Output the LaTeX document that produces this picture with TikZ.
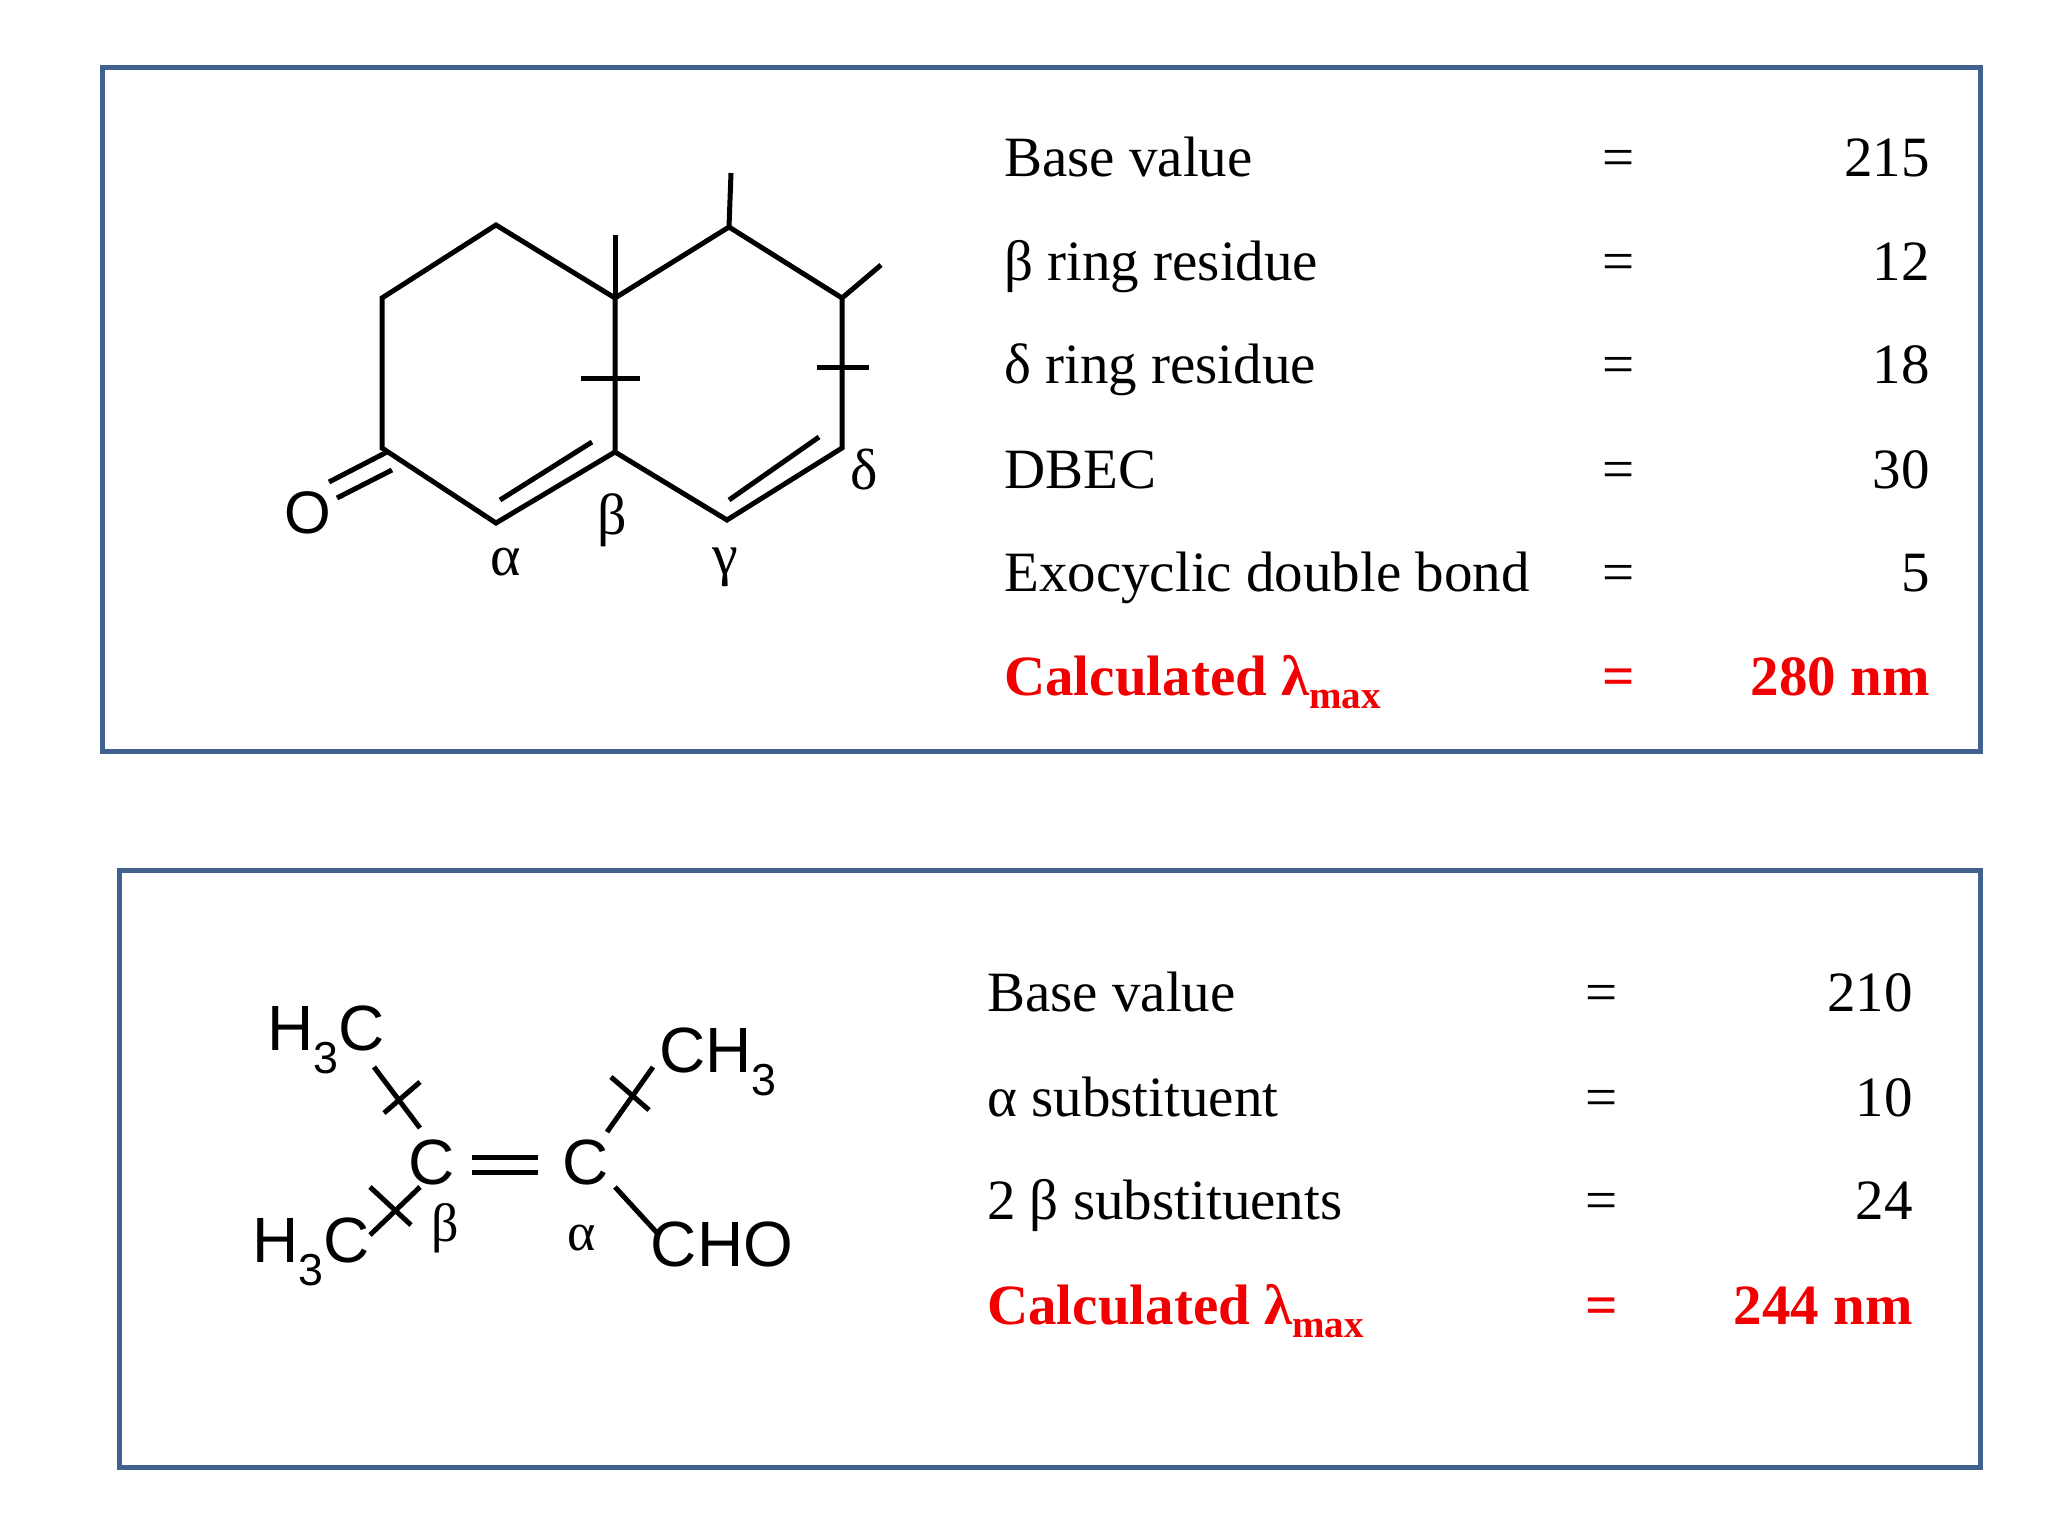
\documentclass[tikz,border=0pt]{standalone}
\usepackage{fontspec}
\setmainfont{Liberation Serif}
\newfontfamily\chemsans{Liberation Sans}
\begin{document}
\begin{tikzpicture}[x=1pt,y=-1pt,
  frame/.style={draw=boxblue,line width=5pt},
  bond/.style={line width=5pt,line cap=butt},
  txt/.style={font=\fontsize{57}{64}\selectfont,inner sep=0pt},
  lft/.style={txt,anchor=base west},
  rgt/.style={txt,anchor=base east},
  eqs/.style={txt,anchor=base},
  red/.style={text=calcred,font=\fontsize{57}{64}\selectfont\bfseries},
  lab/.style={font=\fontsize{58}{64}\selectfont,inner sep=0pt},
  chem/.style={font=\chemsans\fontsize{64}{70}\selectfont,inner sep=0pt}]
\definecolor{boxblue}{HTML}{41618E}
\definecolor{calcred}{HTML}{F00000}
\useasboundingbox (0,0) rectangle (2048,1536);
\fill[white] (0,0) rectangle (2048,1536);
\draw[frame] (102,68) rectangle (1980,751);
\draw[frame] (119,870) rectangle (1980,1467);
% table 1
\foreach \t/\v/\y/\n in {Base value/215/176/a,β ring residue/12/280/b,δ ring residue/18/383/c,DBEC/30/488/d,Exocyclic double bond/5/591/e}{
  \node[lft] (l\n) at (1004,\y) {\t};
  \node[eqs] (e\n) at (1619,\y) {=};
  \node[rgt] (v\n) at (1930,\y) {\v};
}
\node[lft,red] (lf) at (1004,695) {Calculated λ\raisebox{-13pt}{\fontsize{39}{44}\selectfont max}};
\node[eqs,red] (ef) at (1619,695) {=};
\node[rgt,red] (vf) at (1930,695) {280 nm};
% table 2
\foreach \t/\v/\y/\n in {Base value/210/1011/a,α substituent/10/1116/b,2 β substituents/24/1219/c}{
  \node[lft] (m\n) at (987,\y) {\t};
  \node[eqs] (f\n) at (1602,\y) {=};
  \node[rgt] (w\n) at (1913,\y) {\v};
}
\node[lft,red] (mf) at (987,1324) {Calculated λ\raisebox{-13pt}{\fontsize{39}{44}\selectfont max}};
\node[eqs,red] (ff) at (1602,1324) {=};
\node[rgt,red] (wf) at (1913,1324) {244 nm};
% molecule 1
\coordinate (c1) at (382,448);
\coordinate (c2) at (382,298);
\coordinate (c3) at (496,225);
\coordinate (c4) at (615,298);
\coordinate (c5) at (615,452);
\coordinate (ca) at (496,523);
\coordinate (cg) at (727,520);
\coordinate (cd) at (842,448);
\coordinate (c6) at (842,298);
\coordinate (c7) at (729,227);
\draw[bond,line join=miter] (c1)--(c2)--(c3)--(c4)--(c5)--(ca)--cycle;
\draw[bond,line join=miter] (c4)--(c7)--(c6)--(cd)--(cg)--(c5);
\draw[bond] (c7)--(731,173);
\draw[bond] (c6)--(881,265);
\draw[bond] (c4)--(615,235);
\draw[bond] (581,378)--(640,378);
\draw[bond] (817,367)--(869,367);
\draw[bond] (500,500)--(592,442);
\draw[bond] (729,500)--(819,437);
\draw[bond] (329,482)--(387,452);
\draw[bond] (337,498)--(392,470);
\node[lab,font=\chemsans\fontsize{60}{64}\selectfont] (ox) at (308,513) {O};
\node[lab] (la) at (506,562) {α};
\node[lab] (lb) at (612,520) {β};
\node[lab] (lg) at (725,567) {γ};
\node[lab] (ld) at (864,470) {δ};
% molecule 2
\node[chem] (h1) at (326,1040) {H\textsubscript{3}C};
\node[chem] (h2) at (311,1252) {H\textsubscript{3}C};
\node[chem] (cb) at (432,1162) {C};
\node[chem] (cc) at (586,1162) {C};
\node[chem] (ch3) at (718,1062) {CH\textsubscript{3}};
\node[chem] (cho) at (722,1244) {CHO};
\node[lab,font=\fontsize{54}{60}\selectfont] (be) at (445,1228) {β};
\node[lab,font=\fontsize{54}{60}\selectfont] (al) at (582,1238) {α};
\draw[bond] (472,1157)--(538,1157);
\draw[bond] (472,1172)--(538,1172);
\draw[bond] (374,1067)--(420,1128);
\draw[bond] (384,1113)--(420,1082);
\draw[bond] (420,1187)--(370,1235);
\draw[bond] (370,1187)--(411,1225);
\draw[bond] (607,1132)--(653,1067);
\draw[bond] (611,1077)--(649,1110);
\draw[bond] (615,1187)--(659,1235);
\end{tikzpicture}
\end{document}
